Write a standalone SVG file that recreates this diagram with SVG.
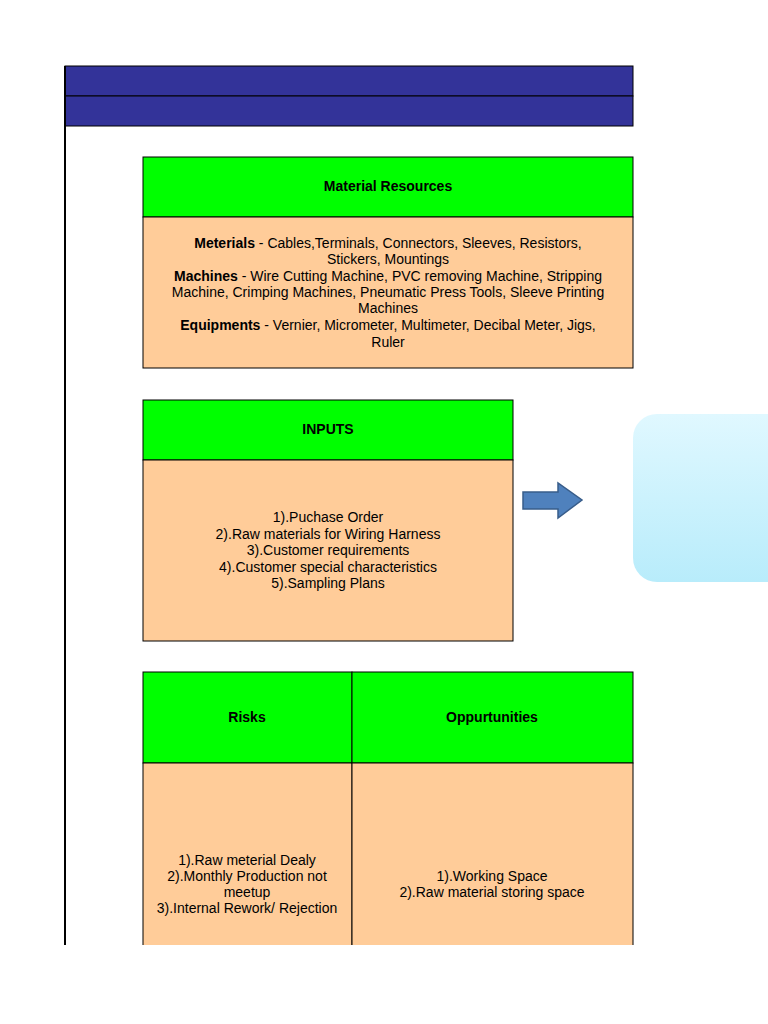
<svg xmlns="http://www.w3.org/2000/svg" width="768" height="1024" viewBox="0 0 768 1024">
<defs><linearGradient id="lb" x1="0" y1="0" x2="0" y2="1"><stop offset="0" stop-color="#E0F8FF"/><stop offset="1" stop-color="#B8ECFB"/></linearGradient></defs>
<style>
.g{fill:#00FF00;stroke:#000;stroke-width:1}
.p{fill:#FFCC99;stroke:#000;stroke-width:1}
text{font-family:"Liberation Sans",Arial,sans-serif;font-size:14px;text-anchor:middle;fill:#000}
.h{font-weight:bold;font-size:14px}
</style>
<rect width="768" height="1024" fill="#fff"/>
<g id="header">
<rect x="65" y="66" width="568" height="30" fill="#333399" stroke="#000"/>
<rect x="65" y="96" width="568" height="30" fill="#333399" stroke="#000"/>
<line x1="65" y1="66" x2="65" y2="945" stroke="#000" stroke-width="2"/>
</g>
<g id="material">
<rect class="g" x="143" y="157" width="490" height="60"/>
<text class="h" x="388" y="191">Material Resources</text>
<rect class="p" x="143" y="217" width="490" height="151"/>
<text x="388" y="248"><tspan font-weight="bold">Meterials</tspan> - Cables,Terminals, Connectors, Sleeves, Resistors,</text>
<text x="388" y="264">Stickers, Mountings</text>
<text x="388" y="281"><tspan font-weight="bold">Machines</tspan> - Wire Cutting Machine, PVC removing Machine, Stripping</text>
<text x="388" y="297">Machine, Crimping Machines, Pneumatic Press Tools, Sleeve Printing</text>
<text x="388" y="313">Machines</text>
<text x="388" y="330"><tspan font-weight="bold">Equipments</tspan> - Vernier, Micrometer, Multimeter, Decibal Meter, Jigs,</text>
<text x="388" y="347">Ruler</text>
</g>
<g id="inputs">
<rect class="g" x="143" y="400" width="370" height="60"/>
<text class="h" x="328" y="434">INPUTS</text>
<rect class="p" x="143" y="460" width="370" height="181"/>
<text x="328" y="522">1).Puchase Order</text>
<text x="328" y="539">2).Raw materials for Wiring Harness</text>
<text x="328" y="555">3).Customer requirements</text>
<text x="328" y="572">4).Customer special characteristics</text>
<text x="328" y="588">5).Sampling Plans</text>
</g>
<g id="process">
<rect x="633" y="414" width="160" height="168" rx="24" fill="url(#lb)"/>
</g>
<g id="connectors">
<path d="M523,492 H558 V483 L582,500 L558,518 V509 H523 Z" fill="#4F81BD" stroke="#385D8A" stroke-width="1.5"/>
</g>
<g id="risks">
<rect class="g" x="143" y="672" width="209" height="91"/>
<text class="h" x="247" y="722">Risks</text>
<rect class="p" x="143" y="763" width="209" height="190"/>
<text x="247" y="865">1).Raw meterial Dealy</text>
<text x="247" y="881">2).Monthly Production not</text>
<text x="247" y="897">meetup</text>
<text x="247" y="913">3).Internal Rework/ Rejection</text>
</g>
<g id="opportunities">
<rect class="g" x="352" y="672" width="281" height="91"/>
<text class="h" x="492" y="722">Oppurtunities</text>
<rect class="p" x="352" y="763" width="281" height="190"/>
<text x="492" y="881">1).Working Space</text>
<text x="492" y="897">2).Raw material storing space</text>
</g>
<rect x="0" y="945" width="768" height="79" fill="#fff"/>
</svg>
